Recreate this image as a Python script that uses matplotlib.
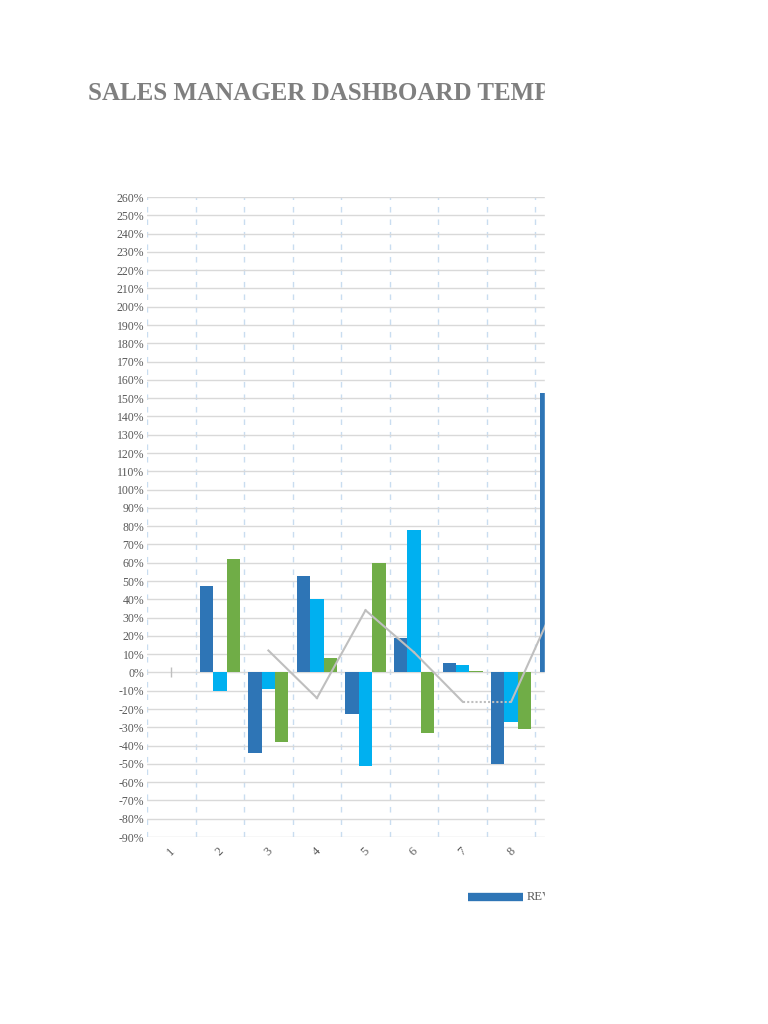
import numpy as np
import matplotlib.pyplot as plt
from matplotlib.patches import Rectangle

# data (percent)
categories = ["1", "2", "3", "4", "5", "6", "7", "8", "9"]
revenue = [0, 47, -44, 53, -23, 19, 5, -50, 153]
series_b = [0, -10, -9, 40, -51, 78, 4, -27, np.nan]
series_c = [0, 62, -38, 8, 60, -33, 1, -31, np.nan]
trend = [0, np.nan, 12, -14, 34, 11, -16, -16, 43]
trend_seg_styles = ["-", "-", "-", "-", "-", "-", (0, (1, 1)), "-"]

fig = plt.figure(figsize=(7.68, 10.24), dpi=100)
ax = fig.add_axes([147 / 768, 1 - 837 / 1024, 437 / 768, 640 / 1024])

x = np.arange(1, len(categories) + 1)
w = 0.275
ax.bar(x - w, revenue, w, color="#2E75B6", zorder=3)
ax.bar(x, series_b, w, color="#00B0F0", zorder=3)
ax.bar(x + w, series_c, w, color="#70AD47", zorder=3)

# trend line, one segment at a time (one dotted stretch)
for i in range(len(trend) - 1):
    if np.isnan(trend[i]) or np.isnan(trend[i + 1]):
        continue
    ax.plot(x[i:i + 2], trend[i:i + 2], color="#BFBFBF", lw=1.5,
            ls=trend_seg_styles[i], zorder=4)
ax.plot([x[0]], [trend[0]], marker="|", ms=7, color="#BFBFBF", zorder=4)

ax.set_xlim(0.5, len(categories) + 0.5)
ax.set_ylim(-90, 260)
ax.set_yticks(np.arange(-90, 261, 10))
ax.set_yticklabels([f"{v}%" for v in range(-90, 261, 10)])
ax.set_xticks(x)
ax.set_xticklabels(categories, rotation=45)
ax.set_xticks(np.arange(0.5, len(categories) + 1, 1), minor=True)

ax.grid(axis="y", which="major", color="#D9D9D9", lw=1, zorder=0)
ax.grid(axis="x", which="minor", color="#C9DDF0", lw=1, ls=(0, (4, 5)), zorder=0)
ax.grid(axis="x", which="major", visible=False)

for s in ax.spines.values():
    s.set_visible(False)
ax.tick_params(which="both", length=0)
ax.tick_params(axis="y", labelsize=8.5, labelcolor="#595959", pad=2)
ax.tick_params(axis="x", labelsize=9, labelcolor="#595959", pad=6)
for lab in ax.get_yticklabels() + ax.get_xticklabels():
    lab.set_fontfamily("Liberation Serif")

fig.text(88 / 768, 1 - 93 / 1024, "SALES MANAGER DASHBOARD TEMPLATE",
         fontsize=18, fontweight="bold", color="#7F7F7F",
         family="Liberation Serif", va="center", ha="left")

# legend (only first entry fits before the crop)
fig.add_artist(plt.Line2D([468 / 768, 523 / 768], [1 - 897 / 1024] * 2,
                          color="#2E75B6", lw=6, solid_capstyle="butt"))
fig.text(527 / 768, 1 - 897 / 1024, "REVENUE", fontsize=9, color="#595959",
         family="Liberation Serif", va="center", ha="left")

# the sheet is cut off at the right
fig.add_artist(Rectangle((545 / 768, 0), 1, 1, transform=fig.transFigure,
                         color="white", zorder=20))

fig.savefig("out.png", dpi=100)
